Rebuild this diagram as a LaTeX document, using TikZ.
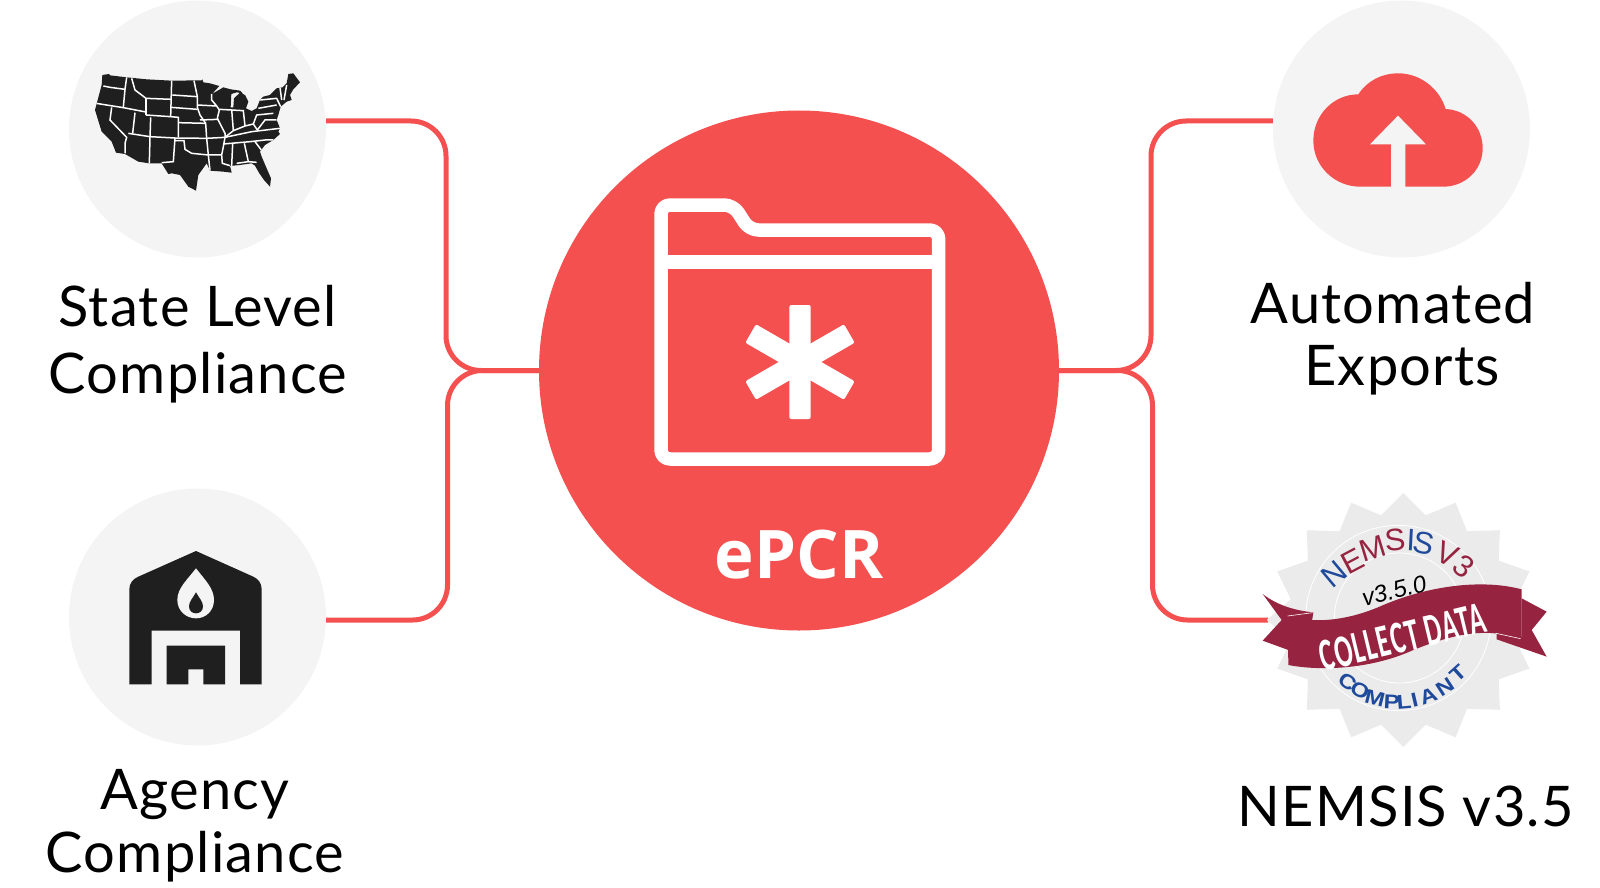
\documentclass[tikz,border=0pt]{standalone}
\usepackage{fontspec}
\setmainfont{Lato}[LetterSpace=2.2]
\newfontfamily\headfont{Open Sans}
\newfontfamily\badgefont{Liberation Sans}
\newfontfamily\bannerfont{Carlito}[LetterSpace=4]
\usetikzlibrary{shapes.geometric}
\definecolor{alarmred}{HTML}{F55050}
\definecolor{discgray}{HTML}{F4F4F4}
\definecolor{iconblack}{HTML}{1F1F1F}
\definecolor{sealgray}{HTML}{EBEBEB}
\definecolor{ribbonred}{HTML}{962340}
\definecolor{nemblue}{HTML}{1F4A9C}
\tikzset{
    disc/.style={circle,fill=discgray,minimum size=257pt,inner sep=0pt},
    bigdisc/.style={circle,fill=alarmred,minimum size=520pt,inner sep=0pt},
    link/.style={draw=alarmred,line width=5pt,rounded corners=35pt},
    lab/.style={anchor=base,text=black,inner sep=0pt,font=\fontsize{56}{60}\selectfont},
    folderline/.style={draw=white,line width=13.5pt,line join=round},
    stateline/.style={draw=white,line width=1.5pt},
    sealring/.style={draw=white,line width=0.8pt},
    sealletter/.style={inner sep=0pt,font=\badgefont\fontsize{31}{31}\selectfont},
    completter/.style={inner sep=0pt,text=nemblue,font=\badgefont\bfseries\fontsize{20}{20}\selectfont}
}
\newcommand{\usaoutline}{(127,225)--(147,222)--(150,226)--(200,232)--(260,238)--(335,242)--(425,241)--(427,238)--(430,247)--(450,250)--(478,258)--(456,282)--(480,268)--(490,262)--(512,268)--(540,272)--(548,280)--(530,277)--(514,282)--(512,322)--(520,322)--(522,295)--(540,278)--(555,285)--(565,305)--(558,325)--(575,333)--(590,325)--(600,300)--(610,290)--(630,285)--(650,265)--(668,262)--(680,250)--(685,222)--(700,220)--(720,247)--(700,268)--(690,285)--(695,300)--(680,305)--(662,320)--(655,345)--(650,360)--(660,385)--(655,395)--(660,402)--(640,420)--(615,435)--(600,455)--(605,470)--(620,505)--(633,535)--(630,560)--(612,540)--(598,520)--(585,497)--(575,490)--(540,495)--(510,498)--(515,518)--(490,515)--(450,512)--(440,490)--(415,525)--(408,572)--(385,560)--(360,525)--(335,520)--(325,522)--(305,490)--(268,490)--(235,485)--(195,462)--(168,458)--(155,425)--(125,395)--(105,330)--(113,300)--(125,255)--cycle}

\begin{document}
\begin{tikzpicture}[x=1pt,y=-1pt]
\useasboundingbox (0,0) rectangle (1600,888);

\node[disc] (state) at (197.5,129) {};
\node[disc] (agency) at (197.5,617) {};
\node[disc] (exports) at (1401.5,129) {};
\node[bigdisc] (epcr) at (799,370.5) {};
\coordinate (topbusl) at (446,121);
\coordinate (lowbusl) at (447.5,620);
\coordinate (topbusr) at (1151,121);
\coordinate (lowbusr) at (1152.5,620);
\coordinate (sealend) at (1268,620);

\draw[link] (state.east |- topbusl) -- (topbusl) |- (epcr.west);
\draw[link] (agency.east |- lowbusl) -- (lowbusl) |- (epcr.west);
\draw[link] (exports.west |- topbusr) -- (topbusr) |- (epcr.east);
\draw[link] (sealend) -- (lowbusr) |- (epcr.east);

\node[lab] (statetxt) at (197.5,326) {State Level};
\node[lab] (statetxtb) at (198,393) {Compliance};
\node[lab] (agencytxt) at (195,809) {Agency};
\node[lab] (agencytxtb) at (195,872) {Compliance};
\node[lab] (exportstxt) at (1393,323) {Automated};
\node[lab] (exportstxtb) at (1402,385) {Exports};
\node[lab] (nemsistxt) at (1405.5,826) {NEMSIS v3.5};
\node[anchor=base,text=white,inner sep=0pt,font=\headfont\bfseries\fontsize{67}{70}\selectfont] (epcrtxt) at (799,578) {ePCR};

% map
\begin{scope}[shift={(60,0)},scale=1/3]
\fill[iconblack] \usaoutline;
\begin{scope}
\clip \usaoutline;
\draw[stateline] (130,258)--(150,262)--(195,268);
\draw[stateline] (200,232)--(195,268)--(190,322);
\draw[stateline] (108,310)--(190,323)--(258,336);
\draw[stateline] (215,235)--(225,270)--(258,295)--(335,298);
\draw[stateline] (335,242)--(332,350);
\draw[stateline] (337,285)--(412,290);
\draw[stateline] (402,242)--(412,290)--(412,322)--(420,345)--(437,370)--(440,415)--(445,465)--(450,512);
\draw[stateline] (332,322)--(412,328);
\draw[stateline] (258,295)--(258,345);
\draw[stateline] (225,338)--(218,400);
\draw[stateline] (258,345)--(332,350)--(355,352)--(355,412);
\draw[stateline] (272,352)--(270,412)--(268,490);
\draw[stateline] (355,368)--(437,370);
\draw[stateline] (155,322)--(150,360)--(200,412)--(195,430)--(195,460);
\draw[stateline] (205,400)--(270,410)--(345,414)--(440,415)--(495,412);
\draw[stateline] (345,414)--(340,485)--(305,488);
\draw[stateline] (345,422)--(372,422)--(375,448)--(395,460)--(445,465)--(485,465);
\draw[stateline] (495,412)--(490,440)--(485,465)--(487,490)--(510,497);
\draw[stateline] (518,432)--(515,498);
\draw[stateline] (553,430)--(565,485)--(530,490);
\draw[stateline] (565,485)--(590,487);
\draw[stateline] (490,432)--(570,425)--(615,420)--(640,420);
\draw[stateline] (585,425)--(615,465);
\draw[stateline] (495,412)--(575,395)--(660,385);
\draw[stateline] (412,315)--(470,318)--(478,330)--(472,355)--(495,400)--(495,412);
\draw[stateline] (455,282)--(455,300)--(470,318);
\draw[stateline] (420,360)--(475,358);
\draw[stateline] (478,328)--(550,332)--(555,378);
\draw[stateline] (515,328)--(520,392);
\draw[stateline] (495,412)--(520,392)--(555,378)--(580,372)--(590,345)--(640,340);
\draw[stateline] (580,372)--(592,390)--(615,360)--(650,360);
\draw[stateline] (595,325)--(650,315);
\draw[stateline] (600,300)--(650,295)--(662,320);
\draw[stateline] (660,262)--(665,300);
\draw[stateline] (680,255)--(672,300);
\end{scope}
\end{scope}

% warehouse
\begin{scope}[shift={(110,530)},scale=1/3]
\fill[iconblack] (258,63)--(430,140) .. controls (445,147) and (455,160) .. (455,178)--(455,463)--(390,463)--(390,302)--(125,302)--(125,463)--(58,463)--(58,178) .. controls (58,160) and (68,147) .. (85,140)--cycle;
\fill[iconblack] (170,347)--(345,347)--(345,463)--(280,463)--(280,418)--(235,418)--(235,463)--(170,463)--cycle;
\fill[discgray] (258,115) .. controls (285,150) and (312,175) .. (312,210) .. controls (312,242) and (288,265) .. (258,265) .. controls (228,265) and (202,242) .. (202,210) .. controls (202,175) and (231,150) .. (258,115)--cycle;
\fill[iconblack] (258,187) .. controls (268,205) and (279,215) .. (279,229) .. controls (279,242) and (270,250) .. (258,250) .. controls (246,250) and (237,242) .. (237,229) .. controls (237,215) and (248,205) .. (258,187)--cycle;
\end{scope}

% cloud
\begin{scope}[shift={(1280,50)},scale=1/3]
\fill[alarmred] (240,410) .. controls (165,410) and (100,350) .. (100,272) .. controls (100,195) and (160,133) .. (235,133) .. controls (262,92) and (305,70) .. (355,70) .. controls (420,70) and (478,115) .. (497,177) .. controls (560,180) and (608,230) .. (608,295) .. controls (608,360) and (555,410) .. (490,410)--cycle;
\fill[discgray] (354,197)--(438,283)--(376,283)--(376,411)--(333,411)--(333,283)--(270,283)--cycle;
\end{scope}

% folder
\begin{scope}[shift={(630,180)},scale=1/3]
\draw[folderline,rounded corners=9pt] (93,246)--(93,75)--(310,75)--(358,150)--(926,150)--(926,837)--(93,837)--cycle;
\draw[folderline] (93,246)--(926,246);
\foreach \ang in {90,30,-30}
    \fill[white,rounded corners=2pt,rotate around={\ang:(510,546)}] (339,514) rectangle (681,578);
\end{scope}

% badge
\begin{scope}[shift={(1240,480)},scale=1/3]
\node[star,star points=16,star point ratio=1.19,fill=sealgray,minimum size=254pt,inner sep=0pt,xscale=1.075] (seal) at (490,420) {};
\draw[sealring] (475,414) circle (278);
\draw[sealring] (478,414) circle (195);
\foreach \ltr/\px/\py/\rot/\col [count=\i] in {N/283/282/40/nemblue,E/338/243/28/ribbonred,M/398/205/17/ribbonred,S/465/180/5/ribbonred,I/513/180/-3/nemblue,S/552/190/-12/nemblue,V/622/222/-25/ribbonred,3/672/258/-38/ribbonred}
    \node[sealletter,text=\col,rotate=\rot] (nem\i) at (\px,\py) {\ltr};
\foreach \ltr/\px/\py/\rot [count=\i] in {C/322/605/-35,O/360/632/-26,M/405/655/-14,P/455/667/-3,L/492/667/5,I/524/660/13,A/565/648/20,N/615/620/33,T/655/580/42}
    \node[completter,rotate=\rot] (comp\i) at (\px,\py) {\scalebox{1.2}[1]{\ltr}};
\node[inner sep=0pt,rotate=14,text=black,font=\badgefont\itshape\fontsize{24}{24}\selectfont] (vertxt) at (462,332) {v3.5.0};
\fill[ribbonred] (68,342) .. controls (110,375) and (165,392) .. (220,397)--(215,430)--(145,510)--(68,482)--(125,420)--cycle;
\fill[ribbonred] (845,355)--(920,395)--(875,450)--(920,530)--(770,478)--(770,460)--(845,470)--cycle;
\fill[ribbonred] (143,410) .. controls (230,432) and (330,420) .. (430,375) .. controls (560,320) and (720,295) .. (845,328)--(845,478) .. controls (740,440) and (640,462) .. (520,510) .. controls (400,565) and (250,575) .. (145,555)--cycle;
\draw[white,line width=0.6pt] (143,408)--(218,398);
\draw[white,line width=0.6pt] (768,460)--(842,476);
\node[inner sep=0pt,rotate=13.5,text=white,font=\bannerfont\bfseries\fontsize{46}{46}\selectfont] (ribbontxt) at (487,472) {\scalebox{.58}[1]{COLLECT DATA}};
\end{scope}
\end{tikzpicture}
\end{document}
